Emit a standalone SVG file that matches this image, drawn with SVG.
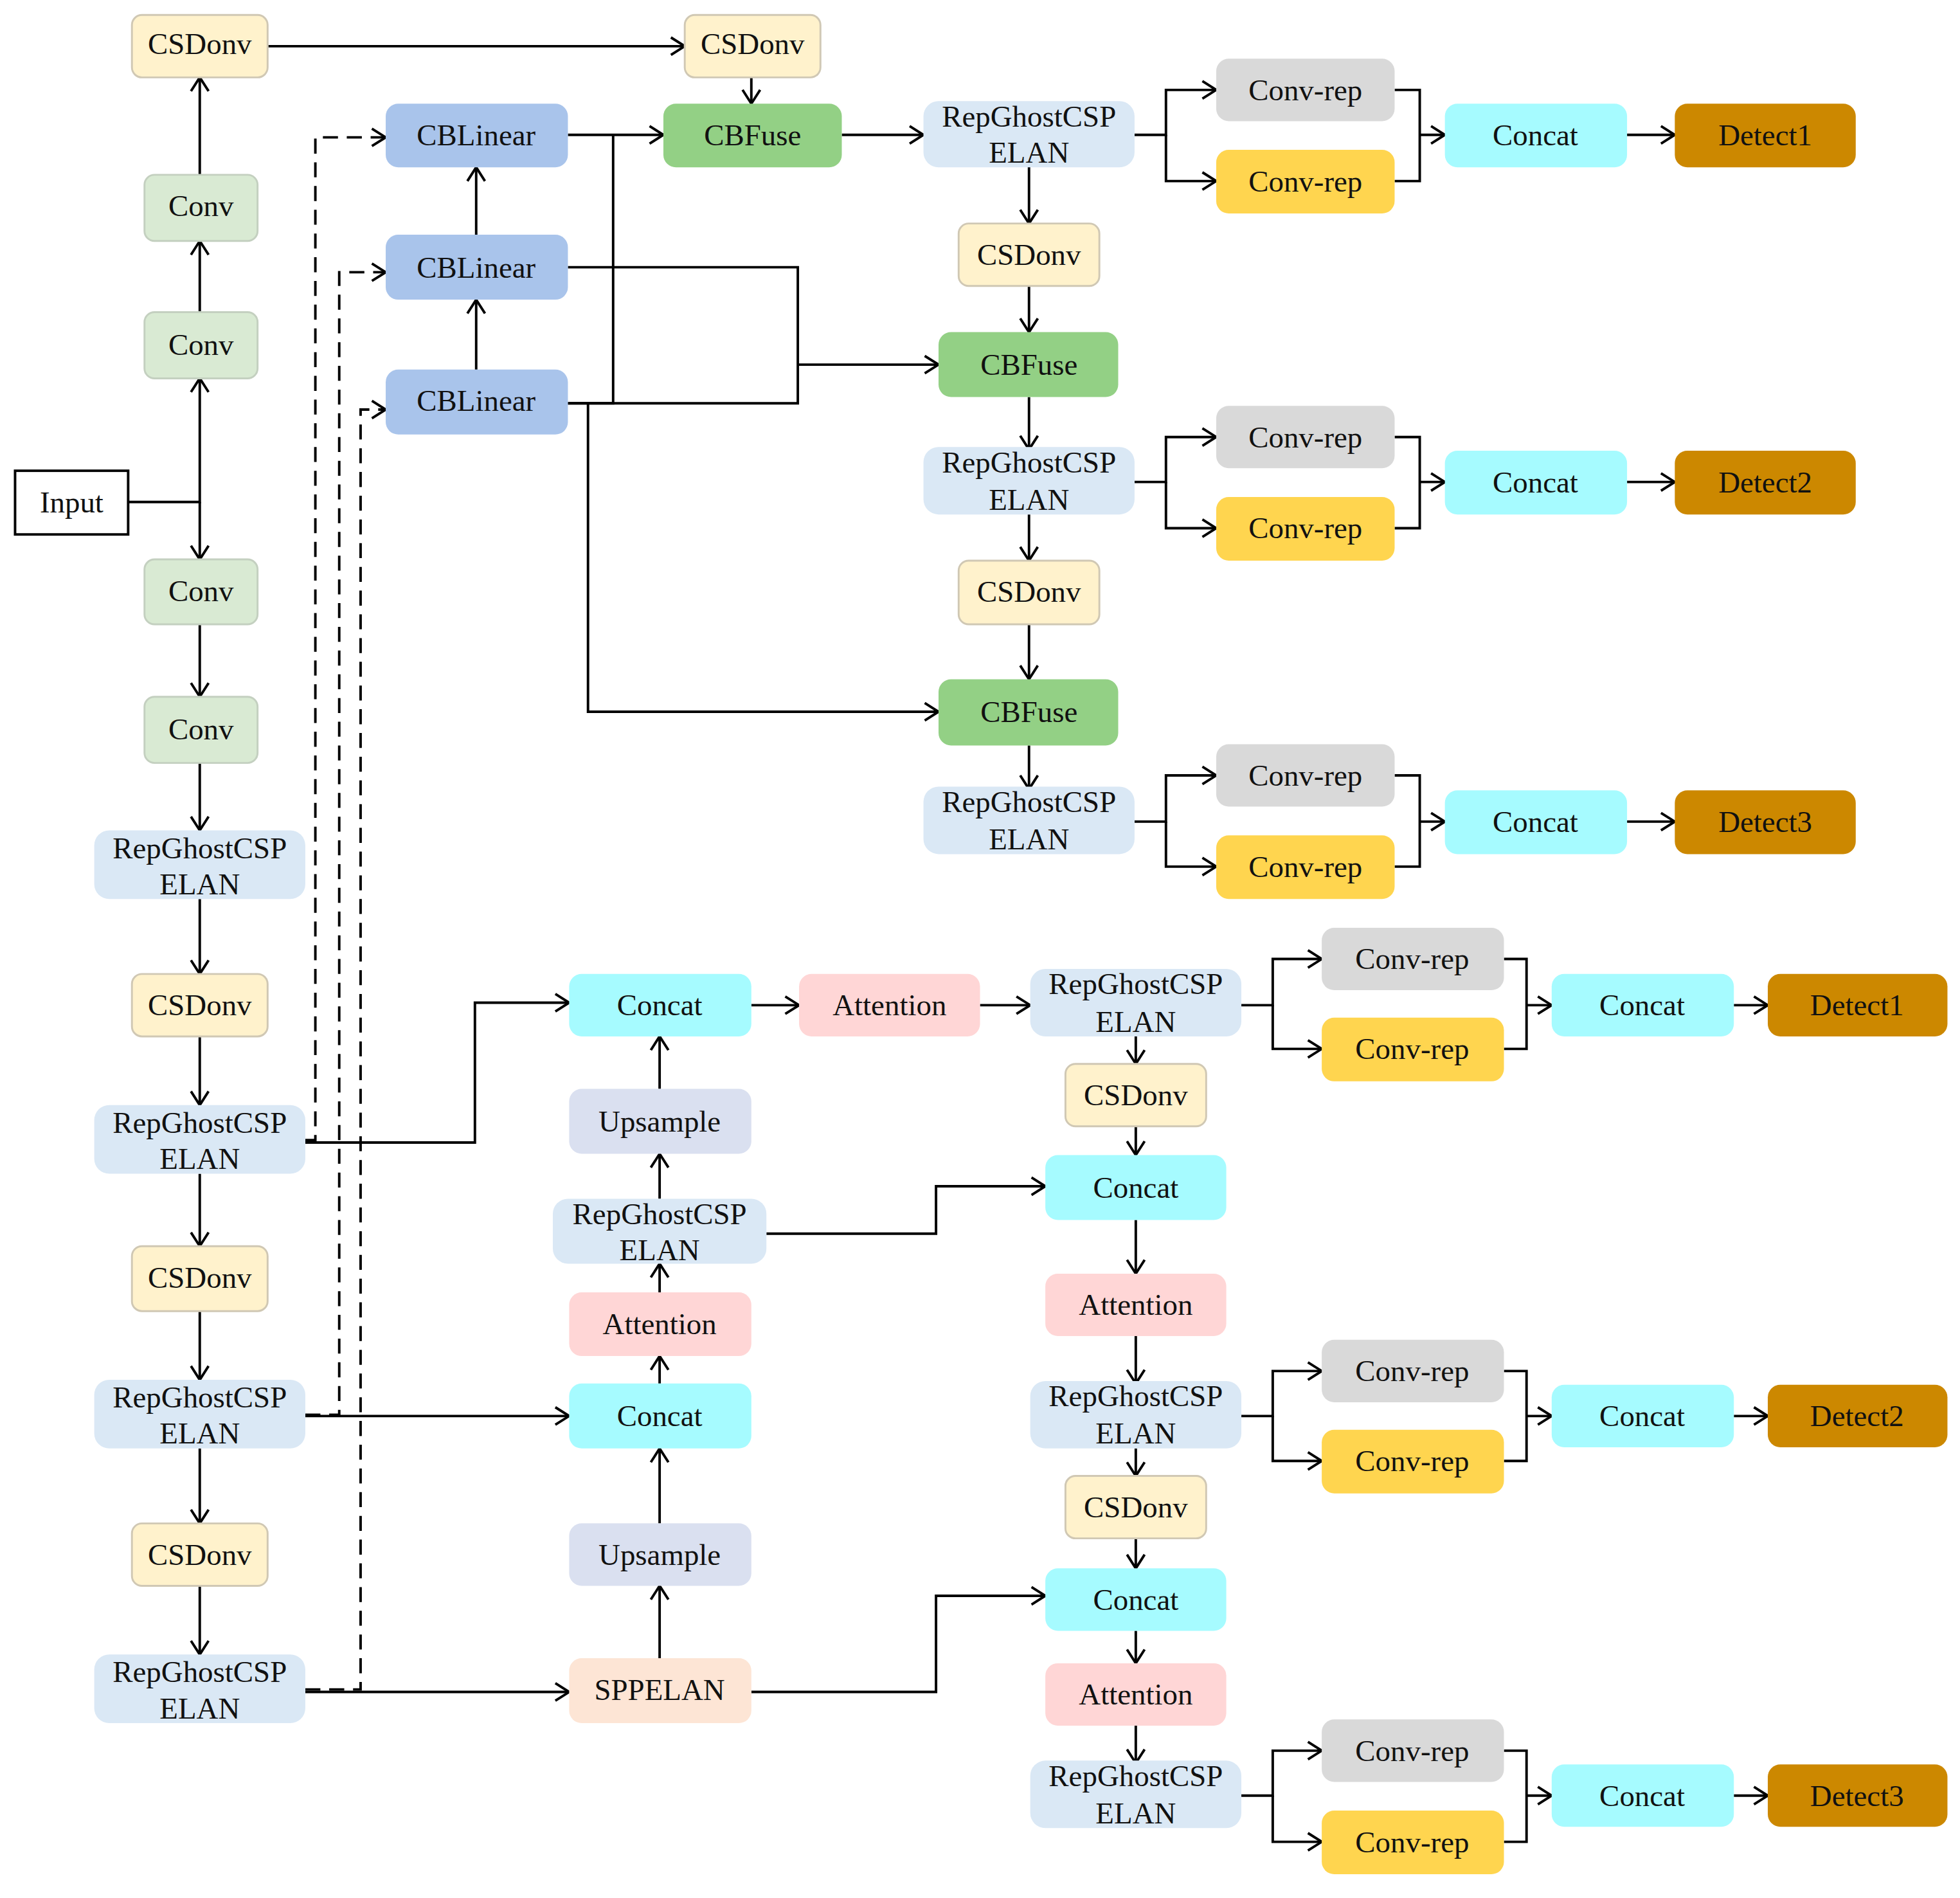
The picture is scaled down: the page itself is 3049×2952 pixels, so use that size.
<svg xmlns="http://www.w3.org/2000/svg" width="3049" height="2952" viewBox="0 0 3049 2952">
<style>
text{font-family:"Liberation Serif","Times New Roman",serif;font-size:24px;text-anchor:middle;dominant-baseline:central;fill:#111}
.cs{fill:#FFF2CC;stroke:#D0C8B4;stroke-width:1.5}
.cv{fill:#D9EAD3;stroke:#C4D0C0;stroke-width:1.5}
.rg{fill:#DAE8F5}
.cb{fill:#A9C4EB}
.cf{fill:#93D085}
.gr{fill:#D9D9D9}
.ye{fill:#FFD54F}
.cc{fill:#A6FBFF}
.de{fill:#CC8800}
.at{fill:#FFD6D6}
.up{fill:#DAE0F0}
.sp{fill:#FDE5D5}
.in{fill:#fff;stroke:#000;stroke-width:2}
#edges path{fill:none;stroke:#000;stroke-width:2}
#edges .d{stroke-dasharray:12 7}
</style>
<defs>
<marker id="a" markerUnits="userSpaceOnUse" markerWidth="16" markerHeight="16" refX="13" refY="8" orient="auto"><path d="M2,1 L13,8 L2,15" fill="none" stroke="#000" stroke-width="2"/></marker>
</defs>
<rect width="3049" height="2952" fill="#fff"/>
<g transform="scale(1.9545,1.9421)">
<g id="edges">
<path d="M102,402H159V303" marker-end="url(#a)"/><path d="M159,402V448" marker-end="url(#a)"/>
<path d="M159,250V193" marker-end="url(#a)"/><path d="M159,140V62" marker-end="url(#a)"/>
<path d="M213,37H545" marker-end="url(#a)"/><path d="M598,62V83" marker-end="url(#a)"/>
<path d="M159,500V558" marker-end="url(#a)"/><path d="M159,611V665" marker-end="url(#a)"/>
<path d="M159,720V780" marker-end="url(#a)"/><path d="M159,830V885" marker-end="url(#a)"/>
<path d="M159,940V998" marker-end="url(#a)"/><path d="M159,1050V1105" marker-end="url(#a)"/>
<path d="M159,1160V1220" marker-end="url(#a)"/><path d="M159,1270V1325" marker-end="url(#a)"/>
<path d="M379,296V240" marker-end="url(#a)"/><path d="M379,188V134" marker-end="url(#a)"/>
<path class="d" d="M243,913H251V110H307" marker-end="url(#a)"/>
<path class="d" d="M243,1133H270V218H307" marker-end="url(#a)"/>
<path class="d" d="M243,1353H287V328H307" marker-end="url(#a)"/>
<path d="M452,108H528" marker-end="url(#a)"/><path d="M452,323H488V108"/>
<path d="M452,214H635V323H452"/><path d="M635,292H747" marker-end="url(#a)"/>
<path d="M468,323V570H747" marker-end="url(#a)"/>
<path d="M670,108H735" marker-end="url(#a)"/>
<path d="M819,133V179" marker-end="url(#a)"/><path d="M819,229V266" marker-end="url(#a)"/>
<path d="M819,318V360" marker-end="url(#a)"/><path d="M819,412V449" marker-end="url(#a)"/>
<path d="M819,500V544" marker-end="url(#a)"/><path d="M819,597V632" marker-end="url(#a)"/>
<path d="M903,108H928V72H968" marker-end="url(#a)"/><path d="M928,108V145H968" marker-end="url(#a)"/>
<path d="M1110,72H1130V145H1110"/><path d="M1130,108H1150" marker-end="url(#a)"/><path d="M1295,108H1333" marker-end="url(#a)"/>
<path d="M903,386H928V350H968" marker-end="url(#a)"/><path d="M928,386V423H968" marker-end="url(#a)"/>
<path d="M1110,350H1130V423H1110"/><path d="M1130,386H1150" marker-end="url(#a)"/><path d="M1295,386H1333" marker-end="url(#a)"/>
<path d="M903,658H928V621H968" marker-end="url(#a)"/><path d="M928,658V694H968" marker-end="url(#a)"/>
<path d="M1110,621H1130V694H1110"/><path d="M1130,658H1150" marker-end="url(#a)"/><path d="M1295,658H1333" marker-end="url(#a)"/>
<path d="M243,915H378V803H453" marker-end="url(#a)"/>
<path d="M598,805H636" marker-end="url(#a)"/><path d="M780,805H820" marker-end="url(#a)"/>
<path d="M904,830V852" marker-end="url(#a)"/><path d="M904,902V925" marker-end="url(#a)"/>
<path d="M904,977V1020" marker-end="url(#a)"/><path d="M904,1070V1108" marker-end="url(#a)"/>
<path d="M904,1160V1182" marker-end="url(#a)"/><path d="M904,1232V1256" marker-end="url(#a)"/>
<path d="M904,1306V1332" marker-end="url(#a)"/><path d="M904,1382V1412" marker-end="url(#a)"/>
<path d="M243,1134H453" marker-end="url(#a)"/><path d="M243,1355H453" marker-end="url(#a)"/>
<path d="M525,1328V1270" marker-end="url(#a)"/><path d="M525,1220V1160" marker-end="url(#a)"/>
<path d="M525,1108V1086" marker-end="url(#a)"/><path d="M525,1035V1012" marker-end="url(#a)"/>
<path d="M525,960V924" marker-end="url(#a)"/><path d="M525,872V830" marker-end="url(#a)"/>
<path d="M610,988H745V950H832" marker-end="url(#a)"/><path d="M598,1355H745V1278H832" marker-end="url(#a)"/>
<path d="M988,805H1013V768H1052" marker-end="url(#a)"/><path d="M1013,805V840H1052" marker-end="url(#a)"/>
<path d="M1197,768H1215V840H1197"/><path d="M1215,805H1235" marker-end="url(#a)"/><path d="M1380,805H1407" marker-end="url(#a)"/>
<path d="M988,1134H1013V1098H1052" marker-end="url(#a)"/><path d="M1013,1134V1170H1052" marker-end="url(#a)"/>
<path d="M1197,1098H1215V1170H1197"/><path d="M1215,1134H1235" marker-end="url(#a)"/><path d="M1380,1134H1407" marker-end="url(#a)"/>
<path d="M988,1438H1013V1402H1052" marker-end="url(#a)"/><path d="M1013,1438V1475H1052" marker-end="url(#a)"/>
<path d="M1197,1402H1215V1475H1197"/><path d="M1215,1438H1235" marker-end="url(#a)"/><path d="M1380,1438H1407" marker-end="url(#a)"/>
</g>
<g id="n1"><rect class="cs" x="105" y="12" width="108" height="50" rx="8"/><text x="159" y="35">CSDonv</text></g>
<g id="n2"><rect class="cv" x="115" y="140" width="90" height="53" rx="8"/><text x="160" y="165">Conv</text></g>
<g id="n3"><rect class="cv" x="115" y="250" width="90" height="53" rx="8"/><text x="160" y="276">Conv</text></g>
<g id="n4"><rect class="in" x="12" y="377" width="90" height="51"/><text x="57" y="402">Input</text></g>
<g id="n5"><rect class="cv" x="115" y="448" width="90" height="52" rx="8"/><text x="160" y="473">Conv</text></g>
<g id="n6"><rect class="cv" x="115" y="558" width="90" height="53" rx="8"/><text x="160" y="584">Conv</text></g>
<g id="n7"><rect class="rg" x="75" y="665" width="168" height="55" rx="12"/><text x="159" y="679">RepGhostCSP</text><text x="159" y="708">ELAN</text></g>
<g id="n8"><rect class="cs" x="105" y="780" width="108" height="50" rx="8"/><text x="159" y="805">CSDonv</text></g>
<g id="n9"><rect class="rg" x="75" y="885" width="168" height="55" rx="12"/><text x="159" y="899">RepGhostCSP</text><text x="159" y="928">ELAN</text></g>
<g id="n10"><rect class="cs" x="105" y="998" width="108" height="52" rx="8"/><text x="159" y="1023">CSDonv</text></g>
<g id="n11"><rect class="rg" x="75" y="1105" width="168" height="55" rx="12"/><text x="159" y="1119">RepGhostCSP</text><text x="159" y="1148">ELAN</text></g>
<g id="n12"><rect class="cs" x="105" y="1220" width="108" height="50" rx="8"/><text x="159" y="1245">CSDonv</text></g>
<g id="n13"><rect class="rg" x="75" y="1325" width="168" height="55" rx="12"/><text x="159" y="1339">RepGhostCSP</text><text x="159" y="1368">ELAN</text></g>
<g id="n14"><rect class="cb" x="307" y="83" width="145" height="51" rx="10"/><text x="379" y="108">CBLinear</text></g>
<g id="n15"><rect class="cb" x="307" y="188" width="145" height="52" rx="10"/><text x="379" y="214">CBLinear</text></g>
<g id="n16"><rect class="cb" x="307" y="296" width="145" height="52" rx="10"/><text x="379" y="321">CBLinear</text></g>
<g id="n17"><rect class="cs" x="545" y="12" width="108" height="50" rx="8"/><text x="599" y="35">CSDonv</text></g>
<g id="n18"><rect class="cf" x="528" y="83" width="142" height="51" rx="10"/><text x="599" y="108">CBFuse</text></g>
<g id="n19"><rect class="rg" x="735" y="81" width="168" height="53" rx="12"/><text x="819" y="93">RepGhostCSP</text><text x="819" y="122">ELAN</text></g>
<g id="n20"><rect class="cs" x="763" y="179" width="112" height="50" rx="8"/><text x="819" y="204">CSDonv</text></g>
<g id="n21"><rect class="cf" x="747" y="266" width="143" height="52" rx="10"/><text x="819" y="292">CBFuse</text></g>
<g id="n22"><rect class="rg" x="735" y="358" width="168" height="54" rx="12"/><text x="819" y="370">RepGhostCSP</text><text x="819" y="400">ELAN</text></g>
<g id="n23"><rect class="cs" x="763" y="449" width="112" height="51" rx="8"/><text x="819" y="474">CSDonv</text></g>
<g id="n24"><rect class="cf" x="747" y="544" width="143" height="53" rx="10"/><text x="819" y="570">CBFuse</text></g>
<g id="n25"><rect class="rg" x="735" y="630" width="168" height="54" rx="12"/><text x="819" y="642">RepGhostCSP</text><text x="819" y="672">ELAN</text></g>
<g id="n26"><rect class="gr" x="968" y="47" width="142" height="50" rx="10"/><text x="1039" y="72">Conv-rep</text></g>
<g id="n27"><rect class="ye" x="968" y="120" width="142" height="51" rx="10"/><text x="1039" y="145">Conv-rep</text></g>
<g id="n28"><rect class="cc" x="1150" y="83" width="145" height="51" rx="10"/><text x="1222" y="108">Concat</text></g>
<g id="n29"><rect class="de" x="1333" y="83" width="144" height="51" rx="10"/><text x="1405" y="108">Detect1</text></g>
<g id="n30"><rect class="gr" x="968" y="325" width="142" height="50" rx="10"/><text x="1039" y="350">Conv-rep</text></g>
<g id="n31"><rect class="ye" x="968" y="398" width="142" height="51" rx="10"/><text x="1039" y="423">Conv-rep</text></g>
<g id="n32"><rect class="cc" x="1150" y="361" width="145" height="51" rx="10"/><text x="1222" y="386">Concat</text></g>
<g id="n33"><rect class="de" x="1333" y="361" width="144" height="51" rx="10"/><text x="1405" y="386">Detect2</text></g>
<g id="n34"><rect class="gr" x="968" y="596" width="142" height="50" rx="10"/><text x="1039" y="621">Conv-rep</text></g>
<g id="n35"><rect class="ye" x="968" y="669" width="142" height="51" rx="10"/><text x="1039" y="694">Conv-rep</text></g>
<g id="n36"><rect class="cc" x="1150" y="633" width="145" height="51" rx="10"/><text x="1222" y="658">Concat</text></g>
<g id="n37"><rect class="de" x="1333" y="633" width="144" height="51" rx="10"/><text x="1405" y="658">Detect3</text></g>
<g id="n38"><rect class="cc" x="453" y="780" width="145" height="50" rx="10"/><text x="525" y="805">Concat</text></g>
<g id="n39"><rect class="at" x="636" y="780" width="144" height="50" rx="10"/><text x="708" y="805">Attention</text></g>
<g id="n40"><rect class="rg" x="820" y="776" width="168" height="54" rx="12"/><text x="904" y="788">RepGhostCSP</text><text x="904" y="818">ELAN</text></g>
<g id="n41"><rect class="gr" x="1052" y="743" width="145" height="50" rx="10"/><text x="1124" y="768">Conv-rep</text></g>
<g id="n42"><rect class="ye" x="1052" y="815" width="145" height="51" rx="10"/><text x="1124" y="840">Conv-rep</text></g>
<g id="n43"><rect class="cc" x="1235" y="780" width="145" height="50" rx="10"/><text x="1307" y="805">Concat</text></g>
<g id="n44"><rect class="de" x="1407" y="780" width="143" height="50" rx="10"/><text x="1478" y="805">Detect1</text></g>
<g id="n45"><rect class="up" x="453" y="872" width="145" height="52" rx="10"/><text x="525" y="898">Upsample</text></g>
<g id="n46"><rect class="rg" x="440" y="960" width="170" height="52" rx="12"/><text x="525" y="972">RepGhostCSP</text><text x="525" y="1001">ELAN</text></g>
<g id="n47"><rect class="at" x="453" y="1035" width="145" height="51" rx="10"/><text x="525" y="1060">Attention</text></g>
<g id="n48"><rect class="cc" x="453" y="1108" width="145" height="52" rx="10"/><text x="525" y="1134">Concat</text></g>
<g id="n49"><rect class="up" x="453" y="1220" width="145" height="50" rx="10"/><text x="525" y="1245">Upsample</text></g>
<g id="n50"><rect class="sp" x="453" y="1328" width="145" height="52" rx="10"/><text x="525" y="1353">SPPELAN</text></g>
<g id="n51"><rect class="cs" x="848" y="852" width="112" height="50" rx="8"/><text x="904" y="877">CSDonv</text></g>
<g id="n52"><rect class="cc" x="832" y="925" width="144" height="52" rx="10"/><text x="904" y="951">Concat</text></g>
<g id="n53"><rect class="at" x="832" y="1020" width="144" height="50" rx="10"/><text x="904" y="1045">Attention</text></g>
<g id="n54"><rect class="rg" x="820" y="1106" width="168" height="54" rx="12"/><text x="904" y="1118">RepGhostCSP</text><text x="904" y="1148">ELAN</text></g>
<g id="n55"><rect class="gr" x="1052" y="1073" width="145" height="50" rx="10"/><text x="1124" y="1098">Conv-rep</text></g>
<g id="n56"><rect class="ye" x="1052" y="1145" width="145" height="51" rx="10"/><text x="1124" y="1170">Conv-rep</text></g>
<g id="n57"><rect class="cc" x="1235" y="1109" width="145" height="50" rx="10"/><text x="1307" y="1134">Concat</text></g>
<g id="n58"><rect class="de" x="1407" y="1109" width="143" height="50" rx="10"/><text x="1478" y="1134">Detect2</text></g>
<g id="n59"><rect class="cs" x="848" y="1182" width="112" height="50" rx="8"/><text x="904" y="1207">CSDonv</text></g>
<g id="n60"><rect class="cc" x="832" y="1256" width="144" height="50" rx="10"/><text x="904" y="1281">Concat</text></g>
<g id="n61"><rect class="at" x="832" y="1332" width="144" height="50" rx="10"/><text x="904" y="1357">Attention</text></g>
<g id="n62"><rect class="rg" x="820" y="1410" width="168" height="54" rx="12"/><text x="904" y="1422">RepGhostCSP</text><text x="904" y="1452">ELAN</text></g>
<g id="n63"><rect class="gr" x="1052" y="1377" width="145" height="50" rx="10"/><text x="1124" y="1402">Conv-rep</text></g>
<g id="n64"><rect class="ye" x="1052" y="1450" width="145" height="51" rx="10"/><text x="1124" y="1475">Conv-rep</text></g>
<g id="n65"><rect class="cc" x="1235" y="1413" width="145" height="50" rx="10"/><text x="1307" y="1438">Concat</text></g>
<g id="n66"><rect class="de" x="1407" y="1413" width="143" height="50" rx="10"/><text x="1478" y="1438">Detect3</text></g>
</g>
</svg>
